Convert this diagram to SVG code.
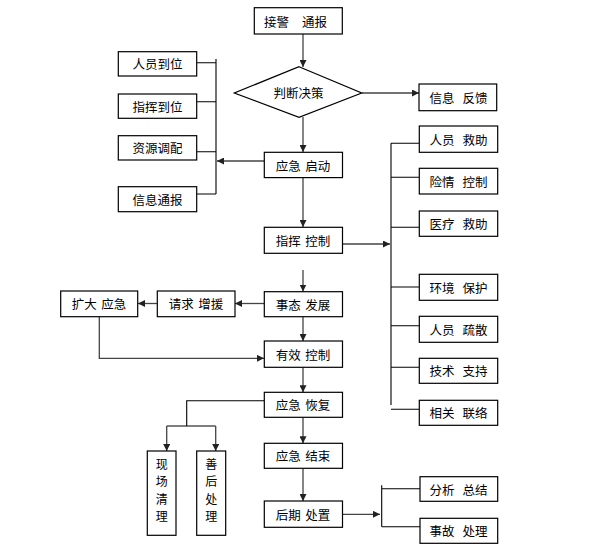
<svg xmlns="http://www.w3.org/2000/svg" width="593" height="548" viewBox="0 0 593 548">
<style>
.box{fill:#fff;stroke:#000;stroke-width:1.2}
.t{font-family:"Noto Sans CJK SC","Liberation Sans",sans-serif;font-size:12.5px;fill:#000;text-anchor:middle;dominant-baseline:central}
.v{font-size:12px}
.w{word-spacing:1.5px}
.wr{word-spacing:5px}
.ww{word-spacing:10px}
.arr{fill:none;stroke:#444;stroke-width:1.3}
.ln{fill:none;stroke:#000;stroke-width:1.1}
</style>
<defs>
<marker id="a" viewBox="0 0 8 8" refX="8" refY="4" markerWidth="7" markerHeight="7" markerUnits="userSpaceOnUse" orient="auto">
<path d="M0,0 L8,4 L0,8 z" fill="#222"/>
</marker>
</defs>
<rect width="593" height="548" fill="#fff"/>
<g id="connectors">
<path class="arr" d="M303,34 V67" marker-end="url(#a)"/>
<path class="arr" d="M303,117 V152" marker-end="url(#a)"/>
<path class="arr" d="M362,93 H419" marker-end="url(#a)"/>
<path class="arr" d="M264,161 H217" marker-end="url(#a)"/>
<path class="ln" d="M216,59 V194 M197,62.7 H216 M197,101.7 H216 M197,151.7 H216 M197,194 H216"/>
<path class="arr" d="M303,177.5 V227" marker-end="url(#a)"/>
<path class="arr" d="M342.5,244 H390" marker-end="url(#a)"/>
<path class="ln" d="M391,143.3 V405 M391,143.3 H419.3 M391,177.3 H419.3 M391,227.3 H419.3 M391,287 H419.3 M391,325.7 H419.3 M391,367.3 H419.3 M391,409.3 H419.3"/>
<path class="arr" d="M303,270 V291.5" marker-end="url(#a)"/>
<path class="arr" d="M264,303.5 H235" marker-end="url(#a)"/>
<path class="arr" d="M157,303.5 H138" marker-end="url(#a)"/>
<path class="arr" d="M99.3,316.7 V358.3 H264" marker-end="url(#a)"/>
<path class="arr" d="M303,316.7 V341" marker-end="url(#a)"/>
<path class="arr" d="M303,367.3 V392.3" marker-end="url(#a)"/>
<path class="ln" d="M264,400.7 H186.7 V426 M166.7,426 H215.7"/>
<path class="arr" d="M166.7,426 V451" marker-end="url(#a)"/>
<path class="arr" d="M215.7,426 V451" marker-end="url(#a)"/>
<path class="arr" d="M303,417.3 V443.3" marker-end="url(#a)"/>
<path class="arr" d="M303,468.3 V501" marker-end="url(#a)"/>
<path class="arr" d="M342.3,514.3 H380" marker-end="url(#a)"/>
<path class="ln" d="M381.7,485.3 V526.7 M381.7,488.7 H420 M381.7,526.7 H420"/>
</g>
<g id="n-jiejing"><rect class="box" x="254.3" y="7.7" width="88" height="26.3"/><text class="t ww" x="295.5" y="21">接警 通报</text></g>
<g id="n-panduan"><polygon class="box" points="299,66.7 361.7,93 299,117.3 234.3,93"/><text class="t" x="298.5" y="92">判断决策</text></g>
<g id="n-xinxifankui"><rect class="box" x="419" y="84" width="77.7" height="26.7"/><text class="t wr" x="458.5" y="97.4">信息 反馈</text></g>
<g id="n-renyuandaowei"><rect class="box" x="118.3" y="51.7" width="78.4" height="24.3"/><text class="t" x="157.5" y="63.9">人员到位</text></g>
<g id="n-zhihuidaowei"><rect class="box" x="118.3" y="94" width="78.4" height="24.3"/><text class="t" x="157.5" y="106.2">指挥到位</text></g>
<g id="n-ziyuandiaopei"><rect class="box" x="118.3" y="135.7" width="78.4" height="24.3"/><text class="t" x="157.5" y="147.9">资源调配</text></g>
<g id="n-xinxitongbao"><rect class="box" x="118.3" y="186.7" width="78.4" height="25"/><text class="t" x="157.5" y="199.2">信息通报</text></g>
<g id="n-yingjiqidong"><rect class="box" x="264.3" y="152.3" width="78.2" height="25.3"/><text class="t w" x="303" y="165">应急 启动</text></g>
<g id="n-zhihuikongzhi"><rect class="box" x="264.3" y="227.3" width="78.2" height="26"/><text class="t w" x="303" y="240.3">指挥 控制</text></g>
<g id="n-shitaifazhan"><rect class="box" x="264.3" y="291.7" width="78.2" height="25"/><text class="t w" x="303" y="304.2">事态 发展</text></g>
<g id="n-youxiaokongzhi"><rect class="box" x="264.3" y="341" width="78.2" height="26.3"/><text class="t w" x="303" y="354.2">有效 控制</text></g>
<g id="n-yingjihuifu"><rect class="box" x="264.3" y="392.3" width="78.2" height="25"/><text class="t w" x="303" y="404.8">应急 恢复</text></g>
<g id="n-yingjijieshu"><rect class="box" x="264.3" y="443.3" width="78.2" height="25"/><text class="t w" x="303" y="455.8">应急 结束</text></g>
<g id="n-houqichuzhi"><rect class="box" x="264.3" y="501" width="78.2" height="26.3"/><text class="t w" x="303" y="514.2">后期 处置</text></g>
<g id="n-kuodayingji"><rect class="box" x="60.7" y="291" width="77" height="25.7"/><text class="t w" x="99" y="303.9">扩大 应急</text></g>
<g id="n-qiuqiuzengyuan"><rect class="box" x="157.3" y="291" width="77.7" height="25.7"/><text class="t w" x="196" y="303.9">请求 增援</text></g>
<g id="n-renyuanjiuzhu"><rect class="box" x="419.3" y="126" width="78.4" height="26.3"/><text class="t wr" x="458.5" y="139.2">人员 救助</text></g>
<g id="n-xianqingkongzhi"><rect class="box" x="419.3" y="168.3" width="78.4" height="25.7"/><text class="t wr" x="458.5" y="181.2">险情 控制</text></g>
<g id="n-yiliaojiuzhu"><rect class="box" x="419.3" y="211" width="78.4" height="25.3"/><text class="t wr" x="458.5" y="223.7">医疗 救助</text></g>
<g id="n-huanjingbaohu"><rect class="box" x="419.3" y="274.3" width="78.4" height="26"/><text class="t wr" x="458.5" y="287.3">环境 保护</text></g>
<g id="n-renyuanshusan"><rect class="box" x="419.3" y="316.3" width="78.4" height="26"/><text class="t wr" x="458.5" y="329.3">人员 疏散</text></g>
<g id="n-jishuzhichi"><rect class="box" x="419.3" y="358.3" width="78.4" height="25"/><text class="t wr" x="458.5" y="370.8">技术 支持</text></g>
<g id="n-xiangguanlianluo"><rect class="box" x="419.3" y="400.3" width="78.4" height="25"/><text class="t wr" x="458.5" y="412.8">相关 联络</text></g>
<g id="n-fenxizongjie"><rect class="box" x="420" y="476.7" width="77.7" height="24.6"/><text class="t wr" x="458.5" y="489">分析 总结</text></g>
<g id="n-shiguchuli"><rect class="box" x="420" y="518.3" width="77.7" height="25"/><text class="t wr" x="458.5" y="530.8">事故 处理</text></g>
<g id="n-xianchangqingli"><rect class="box" x="147.3" y="451" width="28.7" height="84.3"/><text class="t v" x="161.7" y="463"><tspan x="161.7" dy="0">现</tspan><tspan x="161.7" dy="17.3">场</tspan><tspan x="161.7" dy="17.3">清</tspan><tspan x="161.7" dy="17.3">理</tspan></text></g>
<g id="n-shanhouchuli"><rect class="box" x="196.7" y="451" width="29" height="84.3"/><text class="t v" x="211.2" y="463"><tspan x="211.2" dy="0">善</tspan><tspan x="211.2" dy="17.3">后</tspan><tspan x="211.2" dy="17.3">处</tspan><tspan x="211.2" dy="17.3">理</tspan></text></g>
</svg>
